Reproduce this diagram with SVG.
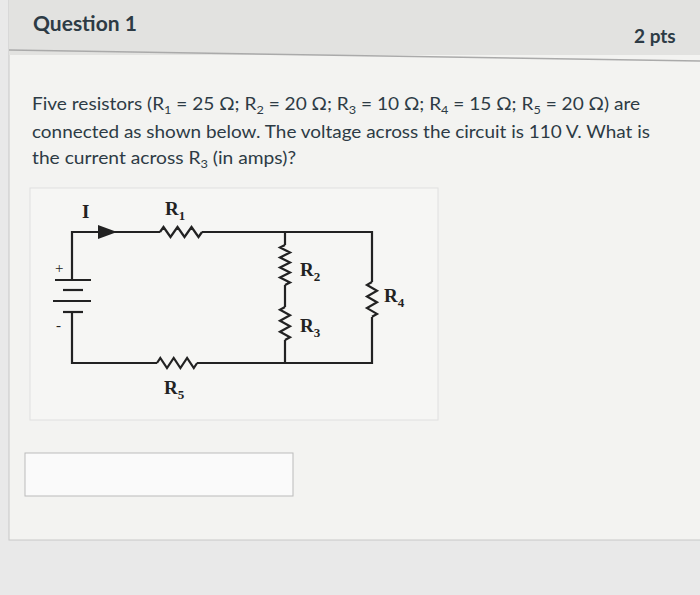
<svg xmlns="http://www.w3.org/2000/svg" width="700" height="595" viewBox="0 0 700 595">
<style>
.t{font-family:Lato,"Liberation Sans",sans-serif;fill:#2d3b45}
.s{font-family:"Liberation Serif",serif;fill:#222}
.w{stroke:#222;stroke-width:2.2;fill:none;stroke-linejoin:miter}
</style>
<rect width="700" height="595" fill="#e9e9e9"/>
<rect x="9" y="0" width="700" height="540" fill="#f3f3f1" stroke="#c8c8c8"/>
<g id="header">
<rect x="9" y="0" width="700" height="55" fill="#e2e2e0"/>
<line x1="9" y1="50" x2="700" y2="61" stroke="#aaa" stroke-width="1.5"/>
<text class="t" x="33" y="31" font-size="21" font-weight="bold" fill="#222">Question 1</text>
<text class="t" x="634" y="43" font-size="19" font-weight="bold" fill="#222">2 pts</text>
</g>
<g id="question" class="t" font-size="18">
<text x="32" y="110" textLength="608" lengthAdjust="spacingAndGlyphs">Five resistors (R<tspan font-size="12" dy="4">1</tspan><tspan dy="-4"> = 25 Ω; R</tspan><tspan font-size="12" dy="4">2</tspan><tspan dy="-4"> = 20 Ω; R</tspan><tspan font-size="12" dy="4">3</tspan><tspan dy="-4"> = 10 Ω; R</tspan><tspan font-size="12" dy="4">4</tspan><tspan dy="-4"> = 15 Ω; R</tspan><tspan font-size="12" dy="4">5</tspan><tspan dy="-4"> = 20 Ω) are</tspan></text>
<text x="32" y="138" textLength="618" lengthAdjust="spacingAndGlyphs">connected as shown below. The voltage across the circuit is 110 V. What is</text>
<text x="32" y="164" textLength="264" lengthAdjust="spacingAndGlyphs">the current across R<tspan font-size="12" dy="4">3</tspan><tspan dy="-4"> (in amps)?</tspan></text>
</g>
<rect x="30" y="188" width="408" height="232" fill="#f6f6f4" stroke="#e0e0e0"/>
<g id="connectors">
<path class="w" d="M72 280 V232 H160 M202 232 H372 V282 M372 317 V363 H197 M157 363 H72 V312"/>
<path class="w" d="M285 232 V245 M285 285 V307 M285 340 V363"/>
<polygon points="98,225 117,232 98,239" fill="#222"/>
</g>
<g id="battery" stroke="#222" stroke-width="2.2">
<line x1="55" y1="280" x2="91" y2="280"/>
<line x1="63" y1="290" x2="83" y2="290"/>
<line x1="53" y1="301" x2="91" y2="301"/>
<line x1="63" y1="312" x2="83" y2="312"/>
</g>
<g id="R1"><path class="w" d="M160 232 l3.5 -5 l7 10 l7 -10 l7 10 l7 -10 l7 10 l3.5 -5"/></g>
<g id="R5"><path class="w" d="M157 363 l3.3 -5 l6.7 10 l6.7 -10 l6.7 10 l6.7 -10 l6.7 10 l3.3 -5"/></g>
<g id="R2"><path class="w" d="M285 245 l-5 2.5 l10 5 l-10 5 l10 5 l-10 5 l10 5 l-10 5 l10 5 l-5 2.5"/></g>
<g id="R3"><path class="w" d="M285 307 l-5 2.75 l10 5.5 l-10 5.5 l10 5.5 l-10 5.5 l10 5.5 l-5 2.75"/></g>
<g id="R4"><path class="w" d="M372 282 l-5 2.9 l10 5.8 l-10 5.8 l10 5.8 l-10 5.8 l10 5.8 l-5 2.9"/></g>
<g id="labels" class="s" font-size="19" font-weight="bold">
<text x="82" y="218">I</text>
<text x="165" y="215">R<tspan font-size="13" dy="5">1</tspan></text>
<text x="300" y="276">R<tspan font-size="13" dy="5">2</tspan></text>
<text x="300" y="332">R<tspan font-size="13" dy="5">3</tspan></text>
<text x="384" y="302">R<tspan font-size="13" dy="5">4</tspan></text>
<text x="164" y="394">R<tspan font-size="13" dy="5">5</tspan></text>
<text x="55" y="273" font-size="15" font-weight="normal">+</text>
<text x="56" y="330" font-size="15" font-weight="normal">-</text>
</g>
<rect id="answer" x="25" y="453" width="268" height="43" fill="#fafafa" stroke="#bbb"/>
</svg>
